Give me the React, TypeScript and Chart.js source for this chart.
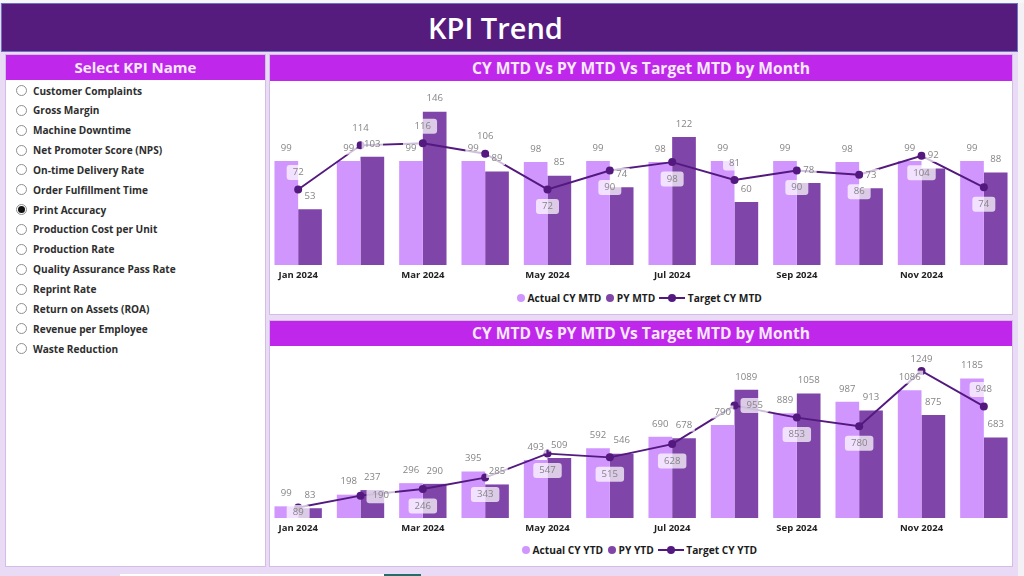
import { useEffect, useRef } from 'react';
import { Chart, registerables } from 'chart.js';

Chart.register(...registerables);

const months = ['Jan 2024', 'Feb 2024', 'Mar 2024', 'Apr 2024', 'May 2024', 'Jun 2024', 'Jul 2024', 'Aug 2024', 'Sep 2024', 'Oct 2024', 'Nov 2024', 'Dec 2024'];

const actualMtd = [99, 99, 99, 99, 98, 99, 98, 99, 99, 98, 99, 99];
const pyMtd = [53, 103, 146, 89, 85, 74, 122, 60, 78, 73, 92, 88];
const targetMtd = [72, 114, 116, 106, 72, 90, 98, 81, 90, 86, 104, 74];
const targetMtdSide = ['up', 'up', 'up', 'up', 'down', 'down', 'down', 'up', 'down', 'down', 'down', 'down'];

const actualYtd = [99, 198, 296, 395, 493, 592, 690, 790, 889, 987, 1086, 1185];
const pyYtd = [83, 237, 290, 285, 509, 546, 678, 1089, 1058, 913, 875, 683];
const targetYtd = [89, 190, 246, 343, 547, 515, 628, 955, 853, 780, 1249, 948];
const targetYtdSide = ['down', 'right', 'down', 'down', 'down', 'down', 'down', 'right', 'down', 'down', 'up', 'up'];

const kpiNames = [
  'Customer Complaints',
  'Gross Margin',
  'Machine Downtime',
  'Net Promoter Score (NPS)',
  'On-time Delivery Rate',
  'Order Fulfillment Time',
  'Print Accuracy',
  'Production Cost per Unit',
  'Production Rate',
  'Quality Assurance Pass Rate',
  'Reprint Rate',
  'Return on Assets (ROA)',
  'Revenue per Employee',
  'Waste Reduction',
];
const selectedKpi = 'Print Accuracy';

const FONT = '"Open Sans", sans-serif';
const LIGHT = '#D096FE';
const MID = '#7F45A9';
const DARK = '#53197F';
const BANNER = '#BF27EA';
const PAGE = '#E9DAF6';

// draws the value labels after the bars and line, the way Power BI masks what is behind them
const valueLabels = {
  id: 'valueLabels',
  afterDatasetsDraw(chart: any, _args: any, opts: any) {
    const ctx = chart.ctx;
    const area = chart.chartArea;
    ctx.save();
    ctx.font = `9.6px ${FONT}`;
    ctx.textAlign = 'center';
    ctx.textBaseline = 'middle';

    [0, 1].forEach((d) => {
      chart.getDatasetMeta(d).data.forEach((bar: any, i: number) => {
        const text = String(chart.data.datasets[d].data[i]);
        const w = ctx.measureText(text).width + 5;
        const y = bar.y - 13;
        ctx.fillStyle = 'rgba(255,255,255,0.72)';
        ctx.fillRect(bar.x - w / 2, y - 6.5, w, 13);
        ctx.fillStyle = '#858585';
        ctx.fillText(text, bar.x, y);
      });
    });

    chart.getDatasetMeta(2).data.forEach((pt: any, i: number) => {
      const text = String(chart.data.datasets[2].data[i]);
      const w = ctx.measureText(text).width + 12;
      const h = 15;
      const side = opts.sides[i];
      let x = pt.x;
      let y = pt.y;
      if (side === 'up') y -= 17;
      if (side === 'down') y += 17;
      if (side === 'right') x += w / 2 + 6;
      y = Math.min(Math.max(y, area.top + h / 2), area.bottom + 2 - h / 2);
      ctx.beginPath();
      ctx.roundRect(x - w / 2, y - h / 2, w, h, 3);
      ctx.fillStyle = 'rgba(255,255,255,0.72)';
      ctx.fill();
      ctx.fillStyle = '#858585';
      ctx.fillText(text, x, y);
    });
    ctx.restore();
  },
};

function ComboChart({ actual, py, target, sides, yMax, labels, top, height }: any) {
  const chartRef = useRef<HTMLCanvasElement>(null);

  useEffect(() => {
    const chart = new Chart(chartRef.current!, {
      type: 'bar',
      data: {
        labels: months,
        datasets: [
          { type: 'bar', label: labels[0], data: actual, backgroundColor: LIGHT, order: 2, barPercentage: 1, categoryPercentage: 0.76 },
          { type: 'bar', label: labels[1], data: py, backgroundColor: MID, order: 2, barPercentage: 1, categoryPercentage: 0.76 },
          { type: 'line', label: labels[2], data: target, borderColor: DARK, backgroundColor: DARK, borderWidth: 1.9, pointRadius: 4, pointBackgroundColor: DARK, pointBorderWidth: 0, tension: 0, order: 1 },
        ],
      } as any,
      options: {
        responsive: false,
        animation: false,
        layout: { padding: 0, autoPadding: false },
        scales: {
          x: {
            grid: { display: false, drawTicks: false },
            border: { display: false },
            afterFit: (scale: any) => {
              scale.height = 20;
              scale.paddingLeft = 0;
              scale.paddingRight = 0;
            },
            ticks: {
              autoSkip: false,
              maxRotation: 0,
              padding: 5,
              color: '#222222',
              font: { family: FONT, size: 9.5, weight: 'bold' },
              callback: (_v: any, i: number) => (i % 2 === 0 ? months[i] : ''),
            },
          },
          y: { display: false, min: 0, max: yMax },
        },
        plugins: {
          legend: { display: false },
          tooltip: { enabled: false },
          valueLabels: { sides },
        },
      } as any,
      plugins: [valueLabels],
    });

    return () => {
      chart.destroy();
    };
  }, []);

  return <canvas ref={chartRef} width={748} height={height} style={{ position: 'absolute', left: 266.5, top, display: 'block' }} />;
}

function Legend({ labels, top, left }: any) {
  const text = { fontSize: 10.2, fontWeight: 700, color: '#1c1c1c', whiteSpace: 'nowrap' } as const;
  const dot = (color: string) => <span style={{ width: 8, height: 8, borderRadius: 4, background: color, marginRight: 2.5, flex: 'none' }} />;
  return (
    <div style={{ position: 'absolute', left, top, height: 14, display: 'flex', alignItems: 'center' }}>
      {dot(LIGHT)}
      <span style={{ ...text, marginRight: 5 }}>{labels[0]}</span>
      {dot(MID)}
      <span style={{ ...text, marginRight: 4 }}>{labels[1]}</span>
      <span style={{ position: 'relative', width: 26, height: 8, marginRight: 2.5, flex: 'none' }}>
        <span style={{ position: 'absolute', left: 0, right: 0, top: 3.2, height: 1.6, background: DARK }} />
        <span style={{ position: 'absolute', left: 9, top: 0, width: 8, height: 8, borderRadius: 4, background: DARK }} />
      </span>
      <span style={text}>{labels[2]}</span>
    </div>
  );
}

function Banner({ text, left, top, width, height, size }: any) {
  return (
    <div style={{ position: 'absolute', left, top, width, height, background: BANNER, color: '#F8E9FF', fontSize: size, fontWeight: 700, lineHeight: `${height}px`, textAlign: 'center', whiteSpace: 'nowrap' }}>
      {text}
    </div>
  );
}

const panel = { position: 'absolute', background: '#ffffff', boxShadow: '0 0 0 1px #D3BDE6' } as const;

export default function App() {
  const mtdLabels = ['Actual CY MTD', 'PY MTD', 'Target CY MTD'];
  const ytdLabels = ['Actual CY YTD', 'PY YTD', 'Target CY YTD'];

  return (
    <div style={{ position: 'fixed', left: 0, top: 0, width: 1024, height: 576, overflow: 'hidden', background: PAGE, fontFamily: FONT }}>
      <div style={{ position: 'absolute', left: 1018, top: 0, width: 6, height: 576, background: '#F3F0F6' }} />
      <div style={{ position: 'absolute', left: 0, top: 0, width: 1024, height: 3, background: '#F7F7F9' }} />
      <div style={{ position: 'absolute', left: 1, top: 3, width: 1017, height: 49, background: '#551C7D', border: '1px solid #6F72BE', boxSizing: 'border-box' }}>
        <div style={{ position: 'absolute', left: 0, width: 987, top: 0, textAlign: 'center', color: '#ffffff', fontSize: 29, fontWeight: 600, lineHeight: '47px' }}>KPI Trend</div>
      </div>

      <div style={{ ...panel, left: 6, top: 55, width: 259, height: 511 }} />
      <Banner text="Select KPI Name" left={6} top={55} width={259} height={25} size={15} />
      {kpiNames.map((name, i) => (
        <div key={name} style={{ position: 'absolute', left: 16, top: 83.5 + i * 19.85, height: 14, display: 'flex', alignItems: 'center' }}>
          <span style={{ width: 11, height: 11, borderRadius: '50%', border: '1px solid #8f8f8f', background: '#fff', boxSizing: 'border-box', display: 'flex', alignItems: 'center', justifyContent: 'center', marginRight: 6 }}>
            {name === selectedKpi && <span style={{ width: 7, height: 7, borderRadius: '50%', background: '#111' }} />}
          </span>
          <span style={{ fontSize: 10.1, fontWeight: 700, color: '#2e2e2e', whiteSpace: 'nowrap' }}>{name}</span>
        </div>
      ))}

      <div style={{ ...panel, left: 270, top: 55, width: 742, height: 259 }} />
      <Banner text="CY MTD Vs PY MTD Vs Target MTD by Month" left={270} top={55} width={742} height={26} size={15.6} />
      <ComboChart actual={actualMtd} py={pyMtd} target={targetMtd} sides={targetMtdSide} yMax={168.6} labels={mtdLabels} top={88} height={197} />
      <Legend labels={mtdLabels} left={517} top={291} />

      <div style={{ ...panel, left: 270, top: 321, width: 742, height: 245 }} />
      <Banner text="CY MTD Vs PY MTD Vs Target MTD by Month" left={270} top={321} width={742} height={25} size={15.6} />
      <ComboChart actual={actualYtd} py={pyYtd} target={targetYtd} sides={targetYtdSide} yMax={1410} labels={ytdLabels} top={352} height={186} />
      <Legend labels={ytdLabels} left={522} top={543} />

      <div style={{ position: 'absolute', left: 120, top: 574, width: 264, height: 2, background: '#ffffff' }} />
      <div style={{ position: 'absolute', left: 384, top: 574, width: 37, height: 2, background: '#1F6F6B' }} />
    </div>
  );
}
